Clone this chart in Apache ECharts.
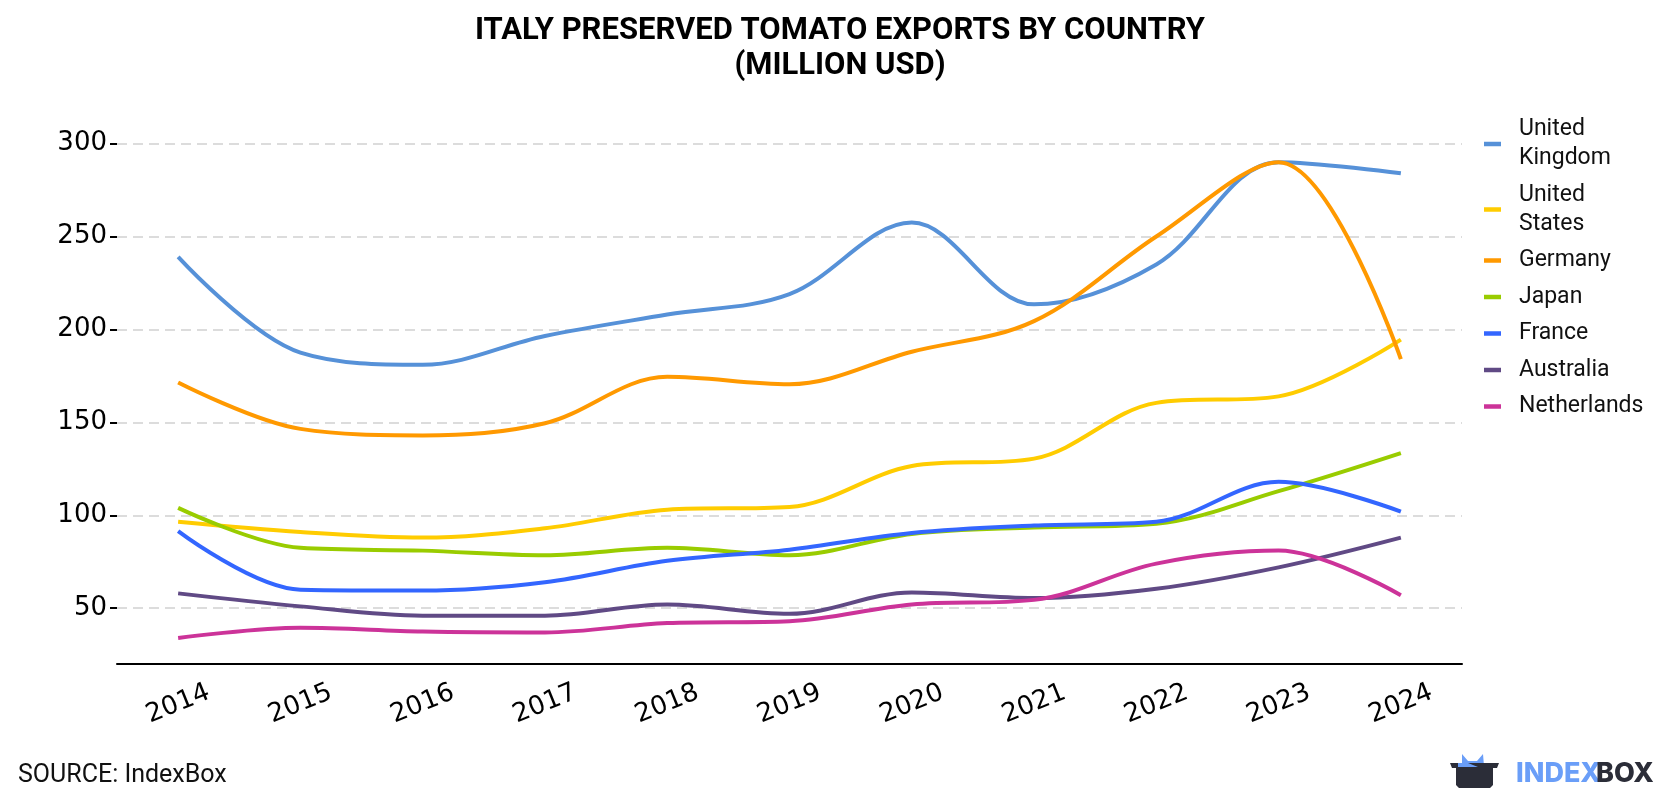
<!DOCTYPE html>
<html lang="en">
<head>
    <meta charset="UTF-8">
    <title>Italy Preserved Tomato Exports by Country</title>
    <script src="https://cdn.jsdelivr.net/npm/echarts@6/dist/echarts.min.js"></script>
    <style type="text/css">
        html, body { margin: 0; padding: 0; background: #ffffff; }
        #main { width: 1680px; height: 800px; }
    </style>
</head>
<body>
    <div id="main"></div>
<script type="text/javascript">
    // years on the x axis
    var years = ['2014', '2015', '2016', '2017', '2018', '2019', '2020', '2021', '2022', '2023', '2024'];
    // y axis tick labels
    var yTicks = [50, 100, 150, 200, 250, 300];

    // export values, million USD
    var unitedKingdom = [239, 187.5, 181, 196.5, 208, 219, 257.5, 213.5, 235, 290, 284];
    var unitedStates = [96.5, 91, 88, 93, 103, 104.5, 126.5, 130.5, 160.5, 164, 194.5];
    var germany = [171.5, 146.5, 143, 149.5, 174.5, 170.5, 188, 204.5, 250, 290, 184];
    var japan = [104, 82.5, 81, 78.5, 82.5, 78.5, 90, 93.5, 95.5, 113, 133.5];
    var france = [91.5, 60, 59.5, 64, 75.5, 81.5, 90.5, 94.5, 96.5, 118, 102];
    var australia = [58, 51, 46, 46, 52, 47, 58.5, 55.5, 60.5, 72, 88];
    var netherlands = [34, 39.5, 37.5, 37, 42, 43, 52, 54.5, 74, 81, 57];

    var countries = ['United Kingdom', 'United States', 'Germany', 'Japan', 'France', 'Australia', 'Netherlands'];
    var values = [unitedKingdom, unitedStates, germany, japan, france, australia, netherlands];
    var colors = ['#5691d8', '#ffcc00', '#ff9900', '#99cc00', '#3366ff', '#604a85', '#cc3399'];

    var series = [];
    for (var i = 0; i < countries.length; i++) {
        series.push({
            name: countries[i],
            type: 'line',
            data: values[i],
            smooth: 0.35,
            showSymbol: false,
            symbol: 'none',
            lineStyle: { width: 4, color: colors[i] },
            itemStyle: { color: colors[i] }
        });
    }

    var myChart = echarts.init(document.getElementById('main'));

    var option = {
        backgroundColor: '#ffffff',
        animation: false,
        title: {
            text: 'ITALY PRESERVED TOMATO EXPORTS BY COUNTRY\n(MILLION USD)',
            left: 'center',
            top: 9,
            textStyle: {
                fontFamily: 'Roboto',
                fontWeight: 'bold',
                fontSize: 31,
                lineHeight: 35,
                color: '#000000'
            }
        },
        legend: {
            orient: 'vertical',
            left: 1484,
            top: 115,
            padding: 0,
            itemGap: 7.5,
            icon: 'rect',
            itemWidth: 17,
            itemHeight: 4.5,
            data: countries,
            formatter: function (name) {
                return name.replace('United ', 'United\n');
            },
            textStyle: {
                fontFamily: 'Roboto',
                fontSize: 23,
                lineHeight: 29,
                color: '#111111',
                padding: [0, 0, 0, 13]
            }
        },
        grid: {
            left: 117,
            right: 218,
            top: 125,
            bottom: 136
        },
        xAxis: {
            type: 'category',
            data: years,
            boundaryGap: true,
            axisLine: { lineStyle: { color: '#000000', width: 2 } },
            axisTick: { alignWithLabel: true, length: 6, lineStyle: { color: '#000000', width: 2 } },
            axisLabel: {
                rotate: 22,
                align: 'center',
                verticalAlign: 'middle',
                margin: 40,
                fontFamily: 'DejaVu Sans',
                fontSize: 26,
                color: '#000000'
            },
            splitLine: { show: false }
        },
        yAxis: {
            type: 'value',
            min: 20,
            max: 310,
            axisLine: { show: false },
            axisTick: {
                show: true,
                customValues: yTicks,
                length: 7,
                lineStyle: { color: '#000000', width: 2 }
            },
            axisLabel: {
                customValues: yTicks,
                margin: 10,
                fontFamily: 'DejaVu Sans',
                fontSize: 26,
                color: '#000000'
            },
            splitLine: {
                show: true,
                lineStyle: { color: '#dcdcdc', width: 2, type: [10, 6] }
            }
        },
        graphic: [
            {
                type: 'text',
                left: 18,
                top: 763,
                style: {
                    text: 'SOURCE: IndexBox',
                    fontFamily: 'Roboto',
                    fontSize: 25,
                    fill: '#111111'
                }
            },
            {
                type: 'group',
                left: 1450,
                top: 754,
                children: [
                    {
                        type: 'polygon',
                        shape: { points: [[12, 0], [18, 7], [27, 7], [33, 0], [34, 12], [12, 12]] },
                        style: { fill: '#6a9ef8' }
                    },
                    {
                        type: 'polygon',
                        shape: { points: [[0, 9], [49, 9], [47, 14], [43, 14], [43, 31], [40, 34], [9, 34], [6, 31], [6, 14], [2, 14]] },
                        style: { fill: '#2b2d38' }
                    },
                    {
                        type: 'polygon',
                        shape: { points: [[8, 9], [18, 9], [28, 13], [8, 13]] },
                        style: { fill: '#6a9ef8' }
                    }
                ]
            },
            {
                type: 'text',
                left: 1516,
                top: 760,
                style: {
                    text: 'INDEX',
                    fontFamily: 'Inter',
                    fontWeight: 800,
                    fontSize: 27,
                    fill: '#6a9ef8'
                }
            },
            {
                type: 'text',
                left: 1596,
                top: 760,
                style: {
                    text: 'BOX',
                    fontFamily: 'Inter',
                    fontWeight: 800,
                    fontSize: 27,
                    fill: '#2b2d38'
                }
            }
        ],
        series: series
    };

    myChart.setOption(option);
</script>
</body>
</html>
